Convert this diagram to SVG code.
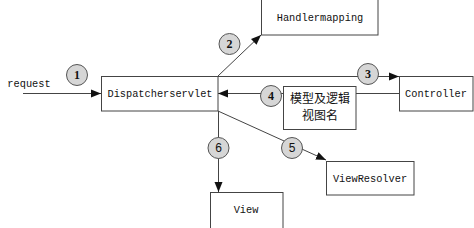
<svg xmlns="http://www.w3.org/2000/svg" width="474" height="228" viewBox="0 0 474 228">
<defs>
<style>
.box{fill:#fff;stroke:#444;stroke-width:1}
.lbl{font-family:"Liberation Mono",monospace;font-size:10.3px;fill:#111;text-anchor:middle}
.cn{font-family:"Noto Sans CJK SC",sans-serif;font-size:12px;fill:#111;text-anchor:middle}
.ln{fill:none;stroke:#444;stroke-width:1}
.c{fill:#d6d6d6;stroke:#555;stroke-width:1}
.n{font-family:"Liberation Serif",serif;font-weight:bold;font-size:12px;fill:#111;text-anchor:middle}
.ns{font-family:"Liberation Sans",sans-serif;font-size:12px;fill:#111;text-anchor:middle}
</style>
<marker id="ah" viewBox="0 0 10 10" refX="10" refY="5" markerWidth="10" markerHeight="10" markerUnits="userSpaceOnUse" orient="auto">
<path d="M0,1 L10,5 L0,9 z" fill="#111"/>
</marker>
</defs>
<rect width="474" height="228" fill="#fff"/>
<g id="connectors">
<line class="ln" x1="23" y1="93.5" x2="101" y2="93.5" marker-end="url(#ah)"/>
<line class="ln" x1="218" y1="76" x2="261" y2="35" marker-end="url(#ah)"/>
<line class="ln" x1="218" y1="76.5" x2="399" y2="76.5" marker-end="url(#ah)"/>
<line class="ln" x1="399" y1="93.5" x2="356" y2="93.5"/>
<line class="ln" x1="283" y1="93.5" x2="218" y2="93.5" marker-end="url(#ah)"/>
<line class="ln" x1="218" y1="111" x2="326" y2="160" marker-end="url(#ah)"/>
<line class="ln" x1="218.5" y1="111" x2="218.5" y2="192" marker-end="url(#ah)"/>
<text x="29" y="87" class="lbl">request</text>
</g>
<g id="dispatcher"><rect class="box" x="101.5" y="76.5" width="116.5" height="34.5"/><text class="lbl" x="160" y="97">Dispatcherservlet</text></g>
<g id="handlermapping"><rect class="box" x="261.5" y="-0.5" width="116.5" height="35.5"/><text class="lbl" x="320" y="21">Handlermapping</text></g>
<g id="controller"><rect class="box" x="399.5" y="76.5" width="73.5" height="34.5"/><text class="lbl" x="436" y="97">Controller</text></g>
<g id="model"><rect class="box" x="283.5" y="86.5" width="72.5" height="43"/><text class="cn" x="320" y="103">模型及逻辑</text><text class="cn" x="320" y="119.5">视图名</text></g>
<g id="viewresolver"><rect class="box" x="326.5" y="161.5" width="87.5" height="33.5"/><text class="lbl" x="370" y="182">ViewResolver</text></g>
<g id="view"><rect class="box" x="210.5" y="192.5" width="72.5" height="37"/><text class="lbl" x="246" y="213">View</text></g>
<g id="step1"><circle class="c" cx="77" cy="75" r="10.5"/><text class="n" x="77" y="79">1</text></g>
<g id="step2"><circle class="c" cx="229.5" cy="44" r="10.5"/><text class="n" x="229.5" y="48">2</text></g>
<g id="step3"><circle class="c" cx="368" cy="74" r="10.5"/><text class="n" x="368" y="78">3</text></g>
<g id="step4"><circle class="c" cx="271" cy="96" r="10.5"/><text class="n" x="271" y="100">4</text></g>
<g id="step5"><circle class="c" cx="292" cy="148" r="10.5"/><text class="ns" x="292" y="152">5</text></g>
<g id="step6"><circle class="c" cx="218.5" cy="148" r="10.5"/><text class="ns" x="218.5" y="152">6</text></g>
</svg>
